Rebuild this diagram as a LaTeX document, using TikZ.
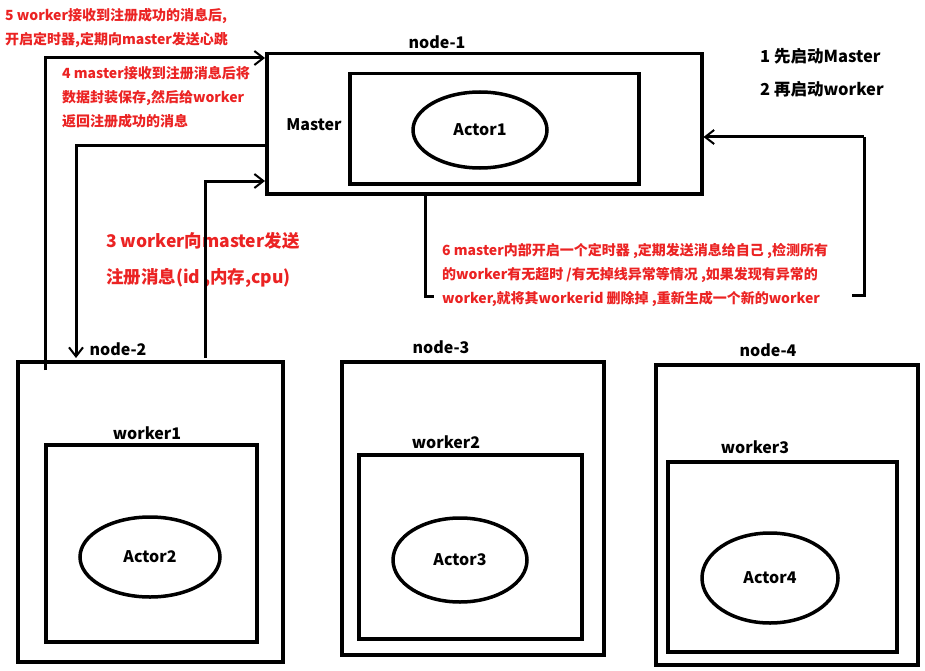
\documentclass[tikz,border=0pt]{standalone}
\usepackage{fontspec}
\setmainfont{Noto Sans CJK SC}
\usetikzlibrary{arrows.meta,shapes.geometric}
\definecolor{rd}{RGB}{235,35,35}
\begin{document}
\begin{tikzpicture}[x=1pt,y=-1pt,
  box/.style={draw,line width=3.5pt},
  act/.style={draw,ellipse,line width=3.5pt,font=\fontsize{16}{18}\selectfont\bfseries},
  lbl/.style={font=\fontsize{16}{18}\selectfont\bfseries},
  note/.style={text=rd,font=\fontsize{14}{24}\selectfont\bfseries,align=left,anchor=north west,inner sep=0pt},
  con/.style={line width=3pt,-{Straight Barb[length=9pt,width=14pt,line width=2pt]}}]
\useasboundingbox (0,0) rectangle (925,671);
% node-1
\node[box,minimum width=435pt,minimum height=140pt,anchor=north west] (n1) at (265,52) {};
\node[box,minimum width=289pt,minimum height=110pt,anchor=north west] (i1) at (348,72) {};
\node[act,minimum width=134pt,minimum height=76pt] (a1) at (480,130) {Actor1};
\node[lbl] (t1) at (437,42) {node-1};
\node[lbl] (m) at (314,125) {Master};
% node-2
\node[box,minimum width=265pt,minimum height=300pt,anchor=north west] (n2) at (16,360) {};
\node[box,minimum width=211pt,minimum height=197pt,anchor=north west] (i2) at (44,443) {};
\node[act,minimum width=140pt,minimum height=80pt] (a2) at (150,557) {Actor2};
\node[lbl] (t2) at (118,349) {node-2};
\node[lbl] (w1) at (147,433) {worker1};
% node-3
\node[box,minimum width=262pt,minimum height=293pt,anchor=north west] (n3) at (340,360) {};
\node[box,minimum width=223pt,minimum height=184pt,anchor=north west] (i3) at (357,453) {};
\node[act,minimum width=134pt,minimum height=84pt] (a3) at (460,560) {Actor3};
\node[lbl] (t3) at (441,347) {node-3};
\node[lbl] (w2) at (446,442) {worker2};
% node-4
\node[box,minimum width=262pt,minimum height=300pt,anchor=north west] (n4) at (654,363) {};
\node[box,minimum width=229pt,minimum height=190pt,anchor=north west] (i4) at (666,460) {};
\node[act,minimum width=136pt,minimum height=90pt] (a4) at (770,578) {Actor4};
\node[lbl] (t4) at (768,350) {node-4};
\node[lbl] (w3) at (755,447) {worker3};
% notes
\node[note] (s5) at (5,8) {5 worker接收到注册成功的消息后,\\开启定时器,定期向master发送心跳};
\node[note] (s4) at (62,66) {4 master接收到注册消息后将\\数据封装保存,然后给worker\\返回注册成功的消息};
\node[note,font=\fontsize{17.5}{36}\selectfont\bfseries] (s3) at (106,232) {3 worker向master发送\\注册消息(id ,内存,cpu)};
\node[note] (s6) at (442,243) {6 master内部开启一个定时器 ,定期发送消息给自己 ,检测所有\\的worker有无超时 /有无掉线异常等情况 ,如果发现有异常的\\worker,就将其workerid 删除掉 ,重新生成一个新的worker};
\node[note,text=black,font=\fontsize{16.5}{33}\selectfont\bfseries] (s1) at (760,48) {1 先启动Master\\2 再启动worker};
% connectors
\coordinate (c5) at (45,370);
\draw[con] (c5) |- (n1.north west |- 0,58);
\draw[con] (n1.west |- 0,146) -| (76,358) coordinate (c4);
\draw[con] (205,358) |- (n1.west |- 0,181);
\draw[line width=3pt] (n1.south -| 425,0) |- (434,296);
\draw[line width=3pt] (852,295) -| (864,137);
\draw[con] (864,137) -- (n1.east |- 0,137);
\end{tikzpicture}
\end{document}
